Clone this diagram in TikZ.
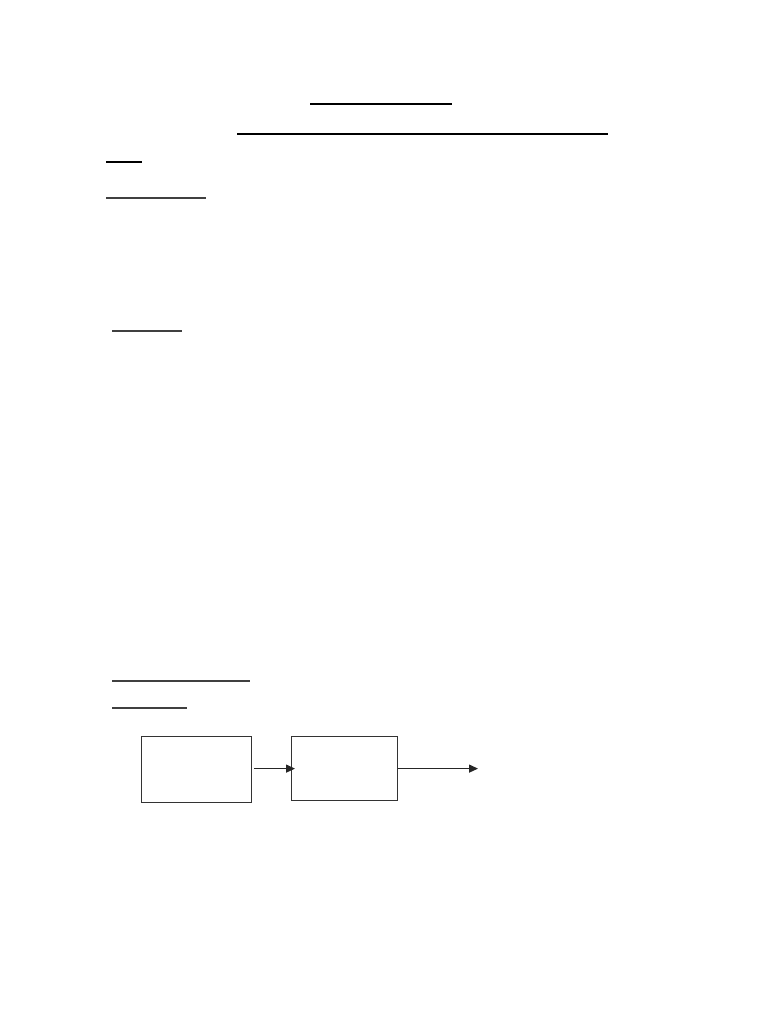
\documentclass[tikz,border=0pt]{standalone}
\usetikzlibrary{arrows.meta}
\begin{document}
\begin{tikzpicture}[x=1pt,y=-1pt,
  thickrule/.style={line width=2pt,black},
  thinrule/.style={line width=1.3pt,black!75},
  blockbox/.style={draw=black!80,line width=1.2pt,rectangle,inner sep=0pt,anchor=north west},
  flow/.style={line width=1.3pt,black!85,-{Triangle[length=9pt,width=8pt]}}]
\useasboundingbox[fill=white] (0,0) rectangle (768,1024);
% underlines
\draw[thickrule] (310,104) -- (452,104);
\draw[thickrule] (237,134) -- (608,134);
\draw[thickrule] (106,162) -- (142,162);
\draw[thinrule] (106,198) -- (206,198);
\draw[thinrule] (112,331) -- (182,331);
\draw[thinrule] (112,681) -- (250,681);
\draw[thinrule] (112,708) -- (187,708);
% blocks
\node[blockbox,minimum width=110pt,minimum height=66pt] (b1) at (141,736) {};
\node[blockbox,minimum width=106pt,minimum height=64pt] (b2) at (291,736) {};
\coordinate (out) at (478,768);
\draw[flow] ([xshift=2pt]b2.west -| b1.east) -- ([xshift=4pt]b2.west);
\draw[flow] (b2.east) -- (b2.east -| out);
\end{tikzpicture}
\end{document}
